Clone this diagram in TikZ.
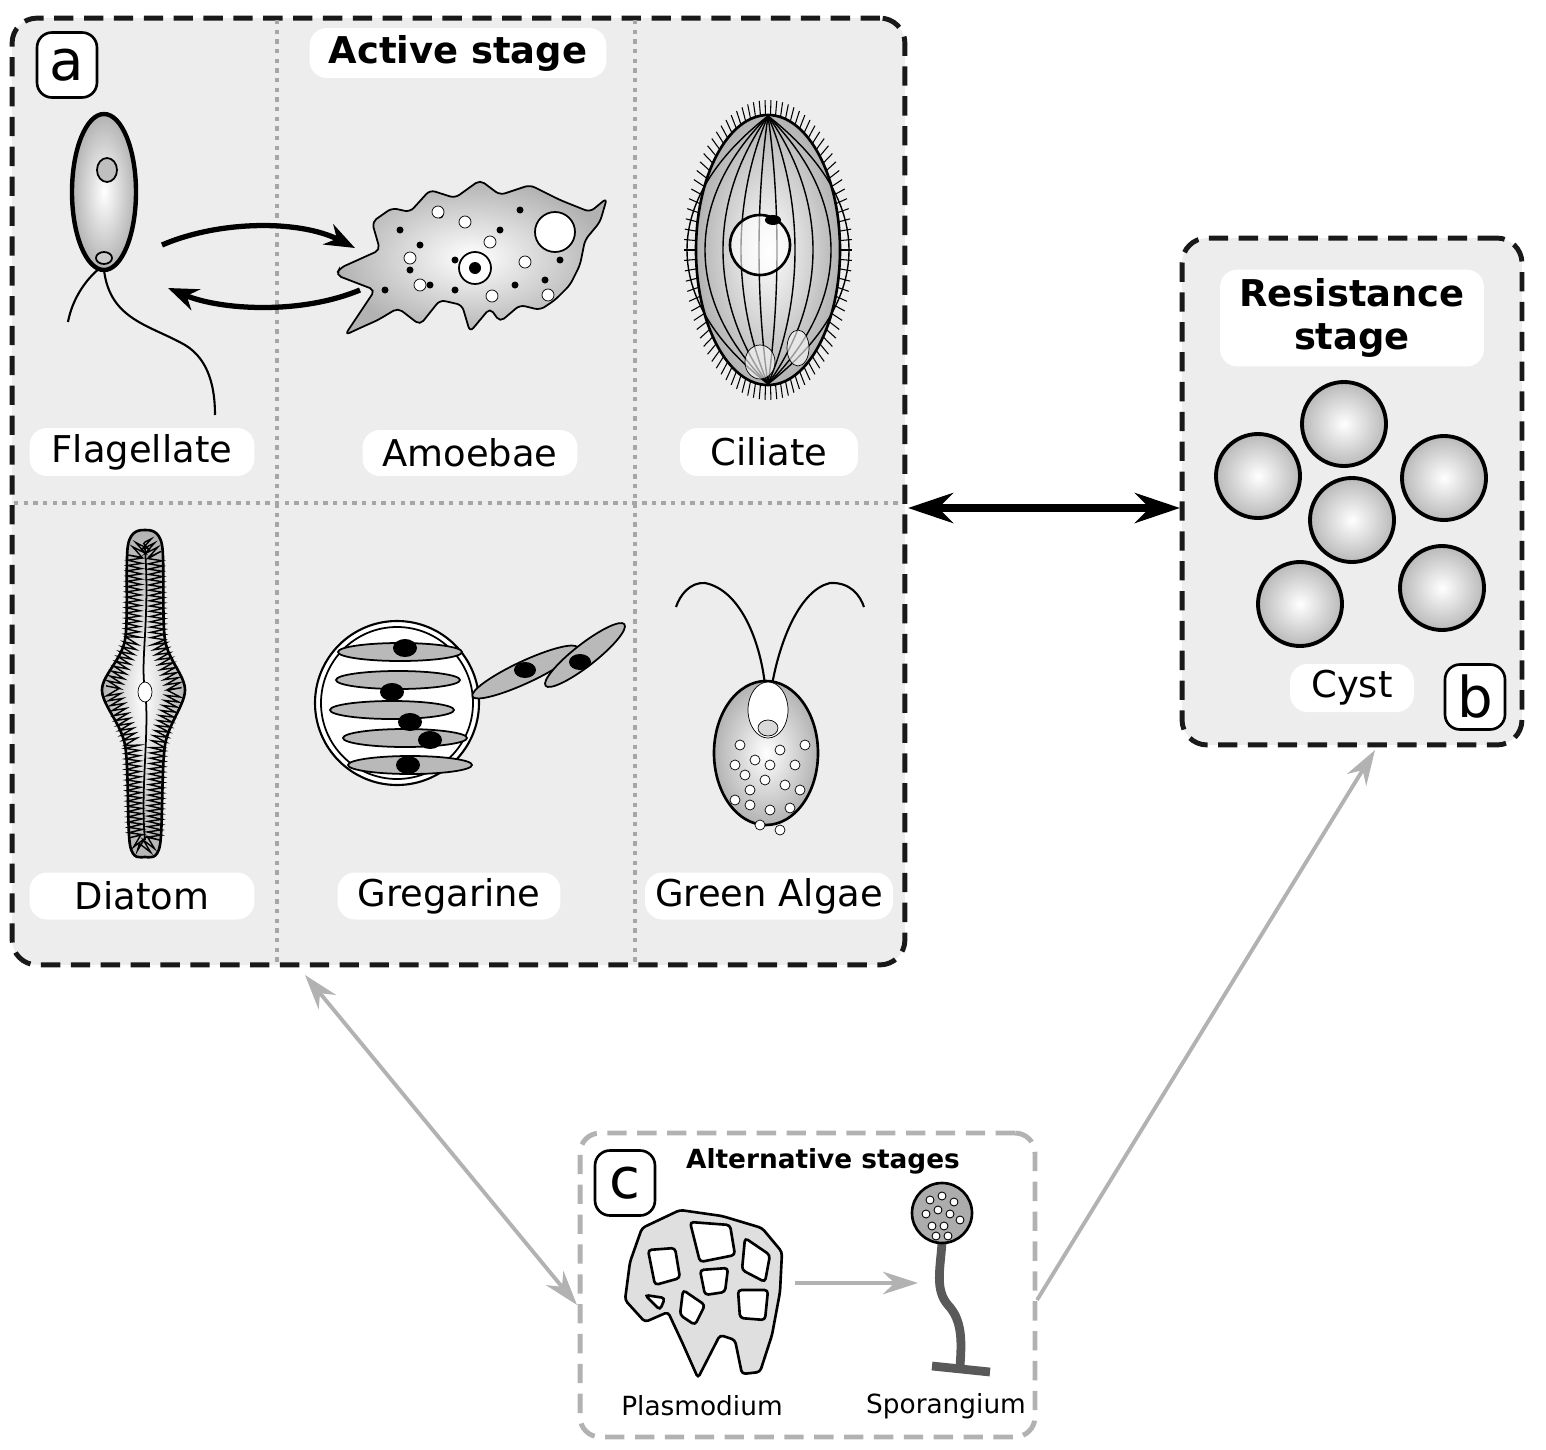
\documentclass[tikz,border=0pt]{standalone}
\usepackage{fontspec}
\setmainfont{DejaVu Sans}
\usetikzlibrary{arrows.meta,decorations.pathmorphing}
\begin{document}
\begin{tikzpicture}[x=0.02cm,y=-0.02cm,
  box/.style={draw=black!90,line width=2.8pt,dash pattern=on 11pt off 6pt,rounded corners=0.5cm,fill=gray!14},
  gbox/.style={draw=gray!60,line width=2.8pt,dash pattern=on 11pt off 6pt,rounded corners=0.4cm,fill=white},
  lab/.style={fill=white,rounded corners=0.35cm,font=\fontsize{21}{25}\selectfont,inner sep=0pt},
  letter/.style={draw,fill=white,line width=1.5pt,rounded corners=0.3cm,minimum width=1.2cm,minimum height=1.3cm,inner sep=0pt,font=\fontsize{32}{34}\selectfont},
  grid/.style={gray!70,line width=2pt,dash pattern=on 2.5pt off 3pt},
  cyst/.style={draw,line width=2.2pt,inner color=white,outer color=gray!55},
  org/.style={draw,line width=1pt,inner color=white,outer color=gray!60},
  garrow/.style={gray!60,line width=2.2pt,-{Stealth[length=0.7cm,width=0.45cm]}}]
\useasboundingbox (0,0) rectangle (1546,1450);
% boxes
\node[box,minimum width=17.86cm,minimum height=18.94cm] (A) at (458.5,491.5) {};
\node[box,minimum width=6.8cm,minimum height=10.14cm] (B) at (1352,491.5) {};
\node[gbox,minimum width=9.1cm,minimum height=6.08cm] (C) at (807.5,1285) {};
% grid
\draw[grid] (277,20) -- (277,963);
\draw[grid] (635,20) -- (635,963);
\draw[grid] (14,503) -- (903,503);
% labels
\node[letter] (la) at (67,65) {a};
\node[lab,minimum width=5.94cm,minimum height=1cm,font=\bfseries\fontsize{21}{25}\selectfont] (act) at (458,53) {Active stage};
\node[lab,minimum width=4.5cm,minimum height=0.96cm] (l1) at (142,452) {Flagellate};
\node[lab,minimum width=4.3cm,minimum height=0.92cm] (l2) at (470,453) {Amoebae};
\node[lab,minimum width=3.56cm,minimum height=0.96cm] (l3) at (769,452) {Ciliate};
\node[lab,minimum width=4.5cm,minimum height=0.94cm] (l4) at (142,896) {Diatom};
\node[lab,minimum width=4.46cm,minimum height=0.94cm] (l5) at (449,896) {Gregarine};
\node[lab,minimum width=4.96cm,minimum height=0.94cm] (l6) at (769,896) {Green Algae};
\node[lab,minimum width=5.28cm,minimum height=1.94cm,align=center,font=\bfseries\fontsize{21}{25}\selectfont] (res) at (1352,318) {Resistance\\stage};
\node[lab,minimum width=2.48cm,minimum height=0.96cm] (cy) at (1352,688) {Cyst};
\node[letter] (lb) at (1475,697) {b};
\node[letter] (lc) at (625,1183) {c};
\node[font=\bfseries\fontsize{15}{18}\selectfont] (alt) at (823,1161) {Alternative stages};
\node[font=\fontsize{15}{18}\selectfont] (pl) at (702,1406) {Plasmodium};
\node[font=\fontsize{15}{18}\selectfont] (sp) at (946,1406) {Sporangium};
% cysts
\foreach \x/\y [count=\i] in {1344/424,1258/476,1444/478,1352/520,1300/604,1442/588}
  \shade[cyst] (\x,\y) circle [radius=42];
% main arrows
\coordinate (ae) at (908,508); \coordinate (bw) at (1180,508);
\draw[line width=4pt,{Stealth[length=0.9cm,width=0.6cm]}-{Stealth[length=0.9cm,width=0.6cm]}] (ae) -- (bw);
\coordinate (as) at (305,975); \coordinate (cw) at (577,1305);
\draw[garrow,{Stealth[length=0.7cm,width=0.45cm]}-{Stealth[length=0.7cm,width=0.45cm]}] (as) -- (cw);
\coordinate (ce) at (1037,1300); \coordinate (bs) at (1375,750);
\draw[garrow] (ce) -- (bs);
\coordinate (p1) at (795,1283); \coordinate (s1) at (918,1283);
\draw[garrow] (p1) -- (s1);
% flagellate
\shade[org,line width=2.5pt] (104,192) ellipse [x radius=32,y radius=78];
\draw[line width=1pt,fill=gray!50] (107,170) ellipse [x radius=10,y radius=12];
\draw[line width=1pt,fill=gray!40] (104,258) ellipse [x radius=8,y radius=6];
\draw[line width=1.2pt] (100,268) .. controls (85,280) and (72,300) .. (68,322);
\draw[line width=1.2pt] (104,270) .. controls (110,320) and (150,325) .. (185,345) .. controls (210,360) and (215,390) .. (215,415);
\draw[line width=3pt,-{Stealth[length=0.6cm,width=0.45cm]}] (162,245) .. controls (220,220) and (300,220) .. (355,248);
\draw[line width=3pt,-{Stealth[length=0.6cm,width=0.45cm]}] (360,290) .. controls (300,315) and (220,310) .. (168,288);
% amoeba
\shade[org,rounded corners=3pt] (340,268)--(380,250)--(372,222)--(392,208)--(410,212)--(430,190)--(455,198)--(480,180)--(500,195)--(530,185)--(560,200)--(590,212)--(607,198)--(600,222)--(585,240)--(580,265)--(570,285)--(555,300)--(540,310)--(520,305)--(500,322)--(490,308)--(470,332)--(462,305)--(440,300)--(420,325)--(398,308)--(378,320)--(360,328)--(345,335)--(365,305)--(375,290)--(336,275)--cycle;
\foreach \x/\y in {400/230,420/245,440/215,455/260,500/230,520/210,430/285,545/280,560/260,410/270,490/295,515/285,455/290,385/290}
  \fill (\x,\y) circle [radius=3.5];
\foreach \x/\y in {438/212,490/242,410/258,525/262,492/296,548/295,420/285,465/222}
  \draw[fill=white] (\x,\y) circle [radius=6];
\draw[fill=white,line width=1pt] (555,232) circle [radius=20];
\draw[fill=white,line width=1pt] (475,268) circle [radius=16];
\fill (475,268) circle [radius=6];
% ciliate
\foreach \a in {0,4,...,356}
  \draw[line width=0.6pt] ({768+72*cos(\a)},{250+135*sin(\a)}) -- ({768+84*cos(\a)},{250+150*sin(\a)});
\shade[org,line width=1.5pt] (768,250) ellipse [x radius=72,y radius=135];
\foreach \k in {-0.9,-0.7,...,0.95}
  \draw[line width=0.8pt] (768,116) .. controls ({768+\k*120},200) and ({768+\k*120},300) .. (768,384);
\draw[line width=1.5pt,fill=white,fill opacity=0.6] (760,245) circle [radius=30];
\fill (773,220) ellipse [x radius=8,y radius=5];
\draw[fill=white,fill opacity=0.6] (760,362) ellipse [x radius=15,y radius=17];
\draw[fill=white,fill opacity=0.6] (798,348) ellipse [x radius=11,y radius=18];
% diatom
\shade[org,line width=1.5pt] plot[smooth cycle,tension=0.5] coordinates {(145,530) (162,545) (165,640) (185,690) (165,745) (160,845) (145,857) (130,845) (125,745) (102,690) (125,640) (128,545)};
\draw[line width=0.8pt,decorate,decoration={zigzag,segment length=3pt,amplitude=4pt}] (145,542)--(155,555)--(158,640)--(175,690)--(158,745)--(154,840)--(145,848)--(136,840)--(132,745)--(112,690)--(132,640)--(135,555)--cycle;
\draw[line width=1pt] (145,548) .. controls (150,620) and (140,660) .. (145,690) .. controls (150,730) and (140,790) .. (145,840);
\draw[fill=white] (145,692) ellipse [x radius=7,y radius=10];
% gregarine
\draw[line width=1.2pt,fill=white] (397,703) circle [radius=82];
\draw[line width=1pt] (397,703) circle [radius=76];
\foreach \x/\y in {400/652,398/680,392/710,405/738,410/765}
  {\draw[fill=gray!55,line width=1pt] (\x,\y) ellipse [x radius=62,y radius=9];}
\foreach \x/\y in {405/648,392/692,410/722,430/740,408/765}
  \fill (\x,\y) ellipse [x radius=12,y radius=9];
\draw[fill=gray!55,line width=1pt,rotate around={25:(525,672)}] (525,672) ellipse [x radius=58,y radius=11];
\draw[fill=gray!55,line width=1pt,rotate around={38:(585,655)}] (585,655) ellipse [x radius=50,y radius=11];
\fill (525,670) ellipse [x radius=11,y radius=8];
\fill (580,662) ellipse [x radius=11,y radius=8];
% green algae
\draw[line width=1.2pt] (765,685) .. controls (760,640) and (740,590) .. (705,583) .. controls (690,582) and (680,595) .. (676,607);
\draw[line width=1.2pt] (772,685) .. controls (780,640) and (800,590) .. (830,583) .. controls (850,582) and (860,595) .. (864,607);
\shade[org,line width=1.5pt] (766,753) ellipse [x radius=52,y radius=72];
\draw[fill=white] (768,710) ellipse [x radius=20,y radius=28];
\draw[fill=gray!30] (768,728) ellipse [x radius=10,y radius=8];
\foreach \x/\y in {740/745,755/760,780/750,795/765,745/775,765/780,785/785,800/790,735/800,750/805,770/810,790/808,780/830,760/825,750/790,735/765,805/745,770/765}
  \draw[fill=white] (\x,\y) circle [radius=5];
% plasmodium
\draw[line width=1.5pt,fill=gray!25,even odd rule,rounded corners=2pt]
 (630,1262)--(642,1228)--(680,1210)--(722,1216)--(762,1228)--(782,1252)--(780,1292)--(772,1335)--(760,1372)--(742,1374)--(735,1340)--(720,1335)--(698,1378)--(682,1342)--(668,1312)--(645,1322)--(625,1300)--cycle
 (648,1250)--(675,1248)--(680,1278)--(655,1285)--cycle
 (690,1222)--(730,1225)--(735,1255)--(700,1262)--cycle
 (745,1238)--(770,1255)--(765,1282)--(742,1270)--cycle
 (700,1270)--(728,1268)--(725,1292)--(705,1295)--cycle
 (683,1290)--(705,1305)--(695,1325)--(680,1315)--cycle
 (738,1290)--(768,1290)--(765,1320)--(740,1318)--cycle
 (645,1295)--(665,1298)--(660,1310)--cycle;
% sporangium
\draw[gray!70!black,line width=5pt] (942,1243) .. controls (940,1270) and (935,1290) .. (948,1305) .. controls (962,1320) and (962,1340) .. (960,1366);
\draw[gray!70!black,line width=5pt] (932,1366) -- (990,1372);
\draw[line width=1.5pt,fill=gray!65] (942,1213) circle [radius=30];
\foreach \x/\y in {930/1200,942/1196,954/1202,926/1214,938/1210,950/1214,960/1220,932/1226,944/1226,936/1236,948/1236}
  \draw[fill=white,line width=0.5pt] (\x,\y) circle [radius=4];
\end{tikzpicture}
\end{document}
